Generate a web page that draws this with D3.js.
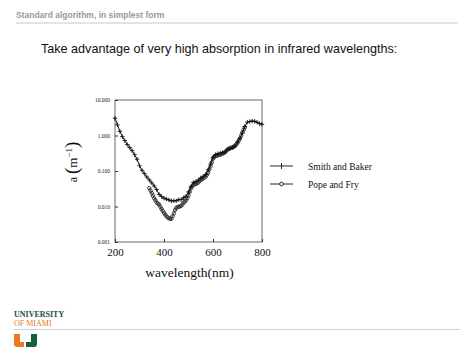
<!DOCTYPE html>
<html>
<head>
<meta charset="utf-8">
<script src="https://cdn.jsdelivr.net/npm/d3@7"></script>
<style>
  body { margin: 0; background: #fff; }
  svg { display: block; }
</style>
</head>
<body>
<div id="chart"></div>
<script>
// Smith and Baker: wavelength (nm) and absorption a (1/m)
const smithWl = [200,210,220,230,240,250,260,270,280,290,300,310,320,330,340,350,360,370,380,390,
                 400,410,420,430,440,450,460,470,480,490,500,510,520,530,540,550,560,570,580,590,
                 600,610,620,630,640,650,660,670,680,690,700,710,720,730,740,750,760,770,780,790,800];
const smithA = [3.07,1.99,1.31,0.927,0.72,0.559,0.457,0.373,0.288,0.215,0.141,0.105,0.0844,0.0678,0.0561,0.0463,0.0379,0.030,0.022,0.0191,
                0.0171,0.0162,0.0153,0.0144,0.0145,0.0145,0.0156,0.0156,0.0176,0.0196,0.0257,0.0357,0.0477,0.0507,0.0558,0.0638,0.0708,0.0799,0.108,0.157,
                0.244,0.289,0.309,0.319,0.329,0.349,0.40,0.43,0.45,0.50,0.65,0.839,1.169,1.799,2.38,2.47,2.55,2.51,2.36,2.16,2.07];

// Pope and Fry
const popeWl = [340,345,350,355,360,365,370,375,380,385,390,395,400,405,410,415,420,425,430,435,440,445,450,455,460,465,470,475,480,485,490,495,
                500,505,510,515,520,525,530,535,540,545,550,555,560,565,570,575,580,585,590,595,600,605,610,615,620,625,630,635,640,645,650,
                655,660,665,670,675,680,685,690,695,700,705,710,715,720,725,730];
const popeA = [0.033,0.028,0.024,0.020,0.017,0.015,0.013,0.012,0.0114,0.0098,0.0085,0.0075,0.0066,0.0059,0.0053,0.0049,0.0047,0.0045,0.0045,0.0053,0.0064,0.0080,0.0092,0.0096,0.0098,0.0101,0.0104,0.0114,0.0127,0.0138,0.015,0.0172,
               0.0204,0.026,0.0325,0.037,0.0409,0.042,0.0434,0.045,0.0474,0.052,0.0565,0.059,0.0619,0.066,0.0695,0.078,0.0896,0.110,0.135,0.175,0.222,0.245,0.264,0.271,0.276,0.284,0.292,0.300,0.311,0.325,0.340,
               0.375,0.41,0.425,0.439,0.452,0.465,0.49,0.516,0.565,0.624,0.72,0.827,1.0,1.23,1.45,1.7];

const yTicks = [0.001, 0.01, 0.1, 1, 10];
const xTicks = [200, 400, 600, 800];
const legendNames = ["Smith and Baker", "Pope and Fry"];

const W = 474, H = 355;
const svg = d3.select("#chart").append("svg")
    .attr("width", W)
    .attr("height", H);

// slide header
svg.append("text")
    .attr("x", 16).attr("y", 17.5)
    .attr("font-family", "Liberation Sans, Arial, sans-serif")
    .attr("font-size", 8.5)
    .attr("font-weight", "bold")
    .attr("fill", "#999")
    .text("Standard algorithm, in simplest form");
svg.append("line")
    .attr("x1", 16).attr("x2", 458).attr("y1", 23).attr("y2", 23)
    .attr("stroke", "#c8c8c8").attr("stroke-width", 1);

svg.append("text")
    .attr("x", 41).attr("y", 53)
    .attr("font-family", "Liberation Sans, Arial, sans-serif")
    .attr("font-size", 12.6)
    .attr("fill", "#111")
    .text("Take advantage of very high absorption in infrared wavelengths:");

// chart area
const plot = {left: 115, right: 262, top: 100, bottom: 242};
const serif = "Liberation Serif, Times New Roman, serif";

const x = d3.scaleLinear().domain([200, 800]).range([plot.left, plot.right]);
const y = d3.scaleLog().domain([0.001, 10]).range([plot.bottom, plot.top]);

// frame
svg.append("rect")
    .attr("x", plot.left).attr("y", plot.top)
    .attr("width", plot.right - plot.left).attr("height", plot.bottom - plot.top)
    .attr("fill", "none").attr("stroke", "#444").attr("stroke-width", 0.8);

const xAxis = svg.append("g")
    .attr("transform", `translate(0,${plot.bottom})`)
    .call(d3.axisBottom(x).tickValues(xTicks).tickSize(-3).tickPadding(6).tickFormat(d3.format("d")));
xAxis.select(".domain").remove();
xAxis.selectAll("text").attr("font-family", serif).attr("font-size", 11).attr("fill", "#111");
xAxis.selectAll("line").attr("stroke", "#333");

const yAxis = svg.append("g")
    .attr("transform", `translate(${plot.left},0)`)
    .call(d3.axisLeft(y).tickValues(yTicks).tickSize(-3).tickPadding(5).tickFormat(d3.format(".3f")));
yAxis.select(".domain").remove();
yAxis.selectAll("text").attr("font-family", serif).attr("font-size", 5.5).attr("fill", "#222");
yAxis.selectAll("line").attr("stroke", "#333");

// axis titles
svg.append("text")
    .attr("x", (plot.left + plot.right) / 2 + 1).attr("y", 277)
    .attr("text-anchor", "middle")
    .attr("font-family", serif).attr("font-size", 13.5).attr("fill", "#111")
    .text("wavelength(nm)");

const yTitle = svg.append("text")
    .attr("transform", "translate(77,162) rotate(-90)")
    .attr("text-anchor", "middle")
    .attr("font-family", serif).attr("font-size", 12).attr("fill", "#111");
yTitle.append("tspan").text("a ");
yTitle.append("tspan").attr("font-size", 19).attr("dy", 1).text("(");
yTitle.append("tspan").attr("font-size", 13).attr("dy", -1).text("m");
yTitle.append("tspan").attr("font-size", 9).attr("dy", -5).text("\u22121");
yTitle.append("tspan").attr("font-size", 19).attr("dy", 6).text(")");

// data lines
const smith = smithWl.map((w, i) => ({w: w, a: smithA[i]}));
const pope = popeWl.map((w, i) => ({w: w, a: popeA[i]}));

const line = d3.line().x(d => x(d.w)).y(d => y(d.a));

svg.append("path").datum(pope)
    .attr("d", line).attr("fill", "none").attr("stroke", "#333").attr("stroke-width", 1);
svg.selectAll(".pope-pt").data(pope).enter().append("circle")
    .attr("class", "pope-pt")
    .attr("cx", d => x(d.w)).attr("cy", d => y(d.a))
    .attr("r", 1.7)
    .attr("fill", "none").attr("stroke", "#3a3a3a").attr("stroke-width", 1);

svg.append("path").datum(smith)
    .attr("d", line).attr("fill", "none").attr("stroke", "#111").attr("stroke-width", 1);
svg.selectAll(".smith-pt").data(smith).enter().append("path")
    .attr("class", "smith-pt")
    .attr("transform", d => `translate(${x(d.w)},${y(d.a)})`)
    .attr("d", "M-2.2,0H2.2M0,-2.2V2.2")
    .attr("stroke", "#111").attr("stroke-width", 0.9).attr("fill", "none");

// legend
const legend = svg.selectAll(".legend").data(legendNames).enter().append("g")
    .attr("class", "legend")
    .attr("transform", (d, i) => `translate(270,${166 + i * 18})`);
legend.append("line")
    .attr("x1", 0).attr("x2", 23).attr("y1", 0).attr("y2", 0)
    .attr("stroke", "#111").attr("stroke-width", 0.9);
legend.filter((d, i) => i === 0).append("path")
    .attr("d", "M11.5,-3V3").attr("stroke", "#111").attr("stroke-width", 0.9);
legend.filter((d, i) => i === 1).append("circle")
    .attr("cx", 11.5).attr("cy", 0).attr("r", 1.8)
    .attr("fill", "#fff").attr("stroke", "#111").attr("stroke-width", 0.9);
legend.append("text")
    .attr("x", 38).attr("y", 3.5)
    .attr("font-family", serif).attr("font-size", 9.5).attr("fill", "#111")
    .text(d => d);

// footer logo
svg.append("text")
    .attr("x", 14).attr("y", 317)
    .attr("font-family", serif).attr("font-size", 8).attr("font-weight", "bold")
    .attr("fill", "#1e4d3a")
    .text("UNIVERSITY");
svg.append("text")
    .attr("x", 14).attr("y", 326)
    .attr("font-family", serif).attr("font-size", 8)
    .attr("fill", "#e07a2a")
    .text("OF MIAMI");
svg.append("line")
    .attr("x1", 14).attr("x2", 460).attr("y1", 329.5).attr("y2", 329.5)
    .attr("stroke", "#cfcfcf").attr("stroke-width", 1.2);
svg.append("path")
    .attr("d", "M14,334H20V342H24V347H17Q14,347 14,344Z")
    .attr("fill", "#f07722");
svg.append("path")
    .attr("d", "M31,334H37V344Q37,347 34,347H26V342H31Z")
    .attr("fill", "#155f3c");
</script>
</body>
</html>
